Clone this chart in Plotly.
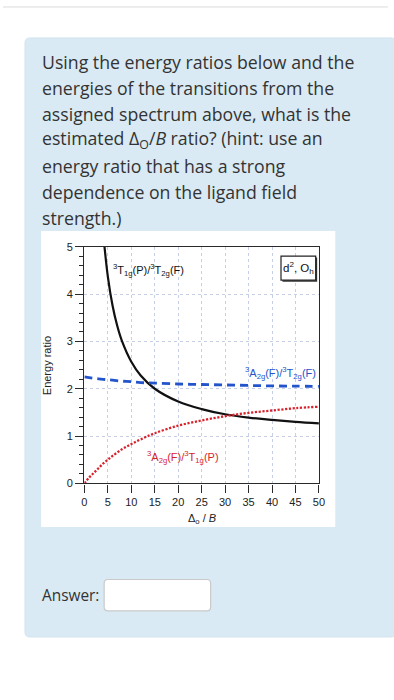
import plotly.graph_objects as go

# ---------------- data ----------------
x_t1gp = [4, 5, 6, 7, 8, 10, 12, 15, 20, 25, 30, 35, 40, 45, 50]
y_t1gp = [5.29, 4.37, 3.76, 3.33, 3.01, 2.57, 2.28, 2.00, 1.73, 1.57, 1.46, 1.39, 1.34, 1.30, 1.27]

x_ratio = [0, 1, 2, 3, 4, 5, 6, 8, 10, 12, 15, 20, 25, 30, 35, 40, 45, 50]
y_a2g_t2g = [2.25, 2.235, 2.22, 2.21, 2.20, 2.19, 2.18, 2.16, 2.15, 2.13, 2.12, 2.10, 2.09, 2.08, 2.07, 2.06, 2.055, 2.05]
y_a2g_t1gp = [0, 0.12, 0.22, 0.32, 0.42, 0.50, 0.58, 0.72, 0.83, 0.93, 1.06, 1.22, 1.33, 1.42, 1.49, 1.54, 1.59, 1.62]

x_ticks = [0, 5, 10, 15, 20, 25, 30, 35, 40, 45, 50]
y_ticks = [0, 1, 2, 3, 4, 5]

question_lines = [
    "Using the energy ratios below and the",
    "energies of the transitions from the",
    "assigned spectrum above, what is the",
    "estimated \u0394<sub>O</sub>/<i>B</i> ratio? (hint: use an",
    "energy ratio that has a strong",
    "dependence on the ligand field",
    "strength.)",
]

W, H = 394, 700


def fx(p):
    return p / W


def fy(p):
    return 1 - p / H


# plot area in pixels
PL, PR, PT, PB = 83.3, 323.3, 245.0, 485.7

BLACK = "#111111"
BLUE = "#2354cc"
RED = "#d8232d"
CHART_FONT = "Liberation Sans, Arial, sans-serif"
TEXT_FONT = "Open Sans, sans-serif"

fig = go.Figure()

fig.add_trace(go.Scatter(x=x_t1gp, y=y_t1gp, mode="lines",
                         line=dict(color=BLACK, width=2.2, shape="spline", smoothing=1.0),
                         hoverinfo="skip"))
fig.add_trace(go.Scatter(x=x_ratio, y=y_a2g_t2g, mode="lines",
                         line=dict(color=BLUE, width=2.8, dash="8px,5px", shape="spline"),
                         hoverinfo="skip"))
fig.add_trace(go.Scatter(x=x_ratio, y=y_a2g_t1gp, mode="lines",
                         line=dict(color=RED, width=2.3, dash="2.2px,1.6px", shape="spline"),
                         hoverinfo="skip"))

shapes = []
# top divider
shapes.append(dict(type="line", xref="paper", yref="paper", x0=0, x1=1, y0=fy(1), y1=fy(1),
                   line=dict(color="#dcdcdc", width=1), layer="below"))


def rounded(x0, y0, x1, y1, r):
    X = lambda p: fx(p)
    Y = lambda p: fy(p)
    return (f"M {X(x0 + r)} {Y(y0)} L {X(x1 - r)} {Y(y0)} Q {X(x1)} {Y(y0)} {X(x1)} {Y(y0 + r)} "
            f"L {X(x1)} {Y(y1 - r)} Q {X(x1)} {Y(y1)} {X(x1 - r)} {Y(y1)} "
            f"L {X(x0 + r)} {Y(y1)} Q {X(x0)} {Y(y1)} {X(x0)} {Y(y1 - r)} "
            f"L {X(x0)} {Y(y0 + r)} Q {X(x0)} {Y(y0)} {X(x0 + r)} {Y(y0)} Z")


# blue question panel
shapes.append(dict(type="path", xref="paper", yref="paper", path=rounded(22.5, 32.5, 402, 642, 5),
                   fillcolor="#d9eaf4", line=dict(color="#d2e4ef", width=1), layer="below"))
# white chart card
shapes.append(dict(type="rect", xref="paper", yref="paper", x0=fx(39), x1=fx(340), y0=fy(229), y1=fy(530),
                   fillcolor="white", line=dict(width=0), layer="below"))
# answer input
shapes.append(dict(type="path", xref="paper", yref="paper", path=rounded(103.5, 583.5, 212.5, 615.5, 4),
                   fillcolor="white", line=dict(color="#c9c9c9", width=1.2), layer="below"))
# d2, Oh box with shadow
shapes.append(dict(type="rect", xref="paper", yref="paper", x0=fx(286), x1=fx(321.5), y0=fy(256), y1=fy(280.5),
                   fillcolor="#333333", line=dict(width=0), layer="above"))
shapes.append(dict(type="rect", xref="paper", yref="paper", x0=fx(284.5), x1=fx(320), y0=fy(254.5), y1=fy(279),
                   fillcolor="white", line=dict(color="#222222", width=1.2), layer="above"))

annotations = []
line_centers = [57.1, 83.5, 109.9, 136.3, 162.7, 189.1, 215.5]
for txt, yc in zip(question_lines, line_centers):
    annotations.append(dict(text=txt, xref="paper", yref="paper", x=fx(37.5), y=fy(yc),
                            xanchor="left", yanchor="middle", showarrow=False,
                            font=dict(family=TEXT_FONT, size=17.7, color="#333333")))
annotations.append(dict(text="Answer:", xref="paper", yref="paper", x=fx(38), y=fy(599.7),
                        xanchor="left", yanchor="middle", showarrow=False,
                        font=dict(family=TEXT_FONT, size=15.4, color="#333333")))

# chart labels
annotations.append(dict(text="<sup>3</sup>T<sub>1g</sub>(P)/<sup>3</sup>T<sub>2g</sub>(F)",
                        xref="paper", yref="paper", x=fx(110.5), y=fy(269), xanchor="left", yanchor="middle",
                        showarrow=False, font=dict(family=CHART_FONT, size=11, color=BLACK)))
annotations.append(dict(text="<sup>3</sup>A<sub>2g</sub>(F)/<sup>3</sup>T<sub>2g</sub>(F)",
                        xref="paper", yref="paper", x=fx(322.5), y=fy(373.5), xanchor="right", yanchor="middle",
                        showarrow=False, font=dict(family=CHART_FONT, size=11, color=BLUE)))
annotations.append(dict(text="<sup>3</sup>A<sub>2g</sub>(F)/<sup>3</sup>T<sub>1g</sub>(P)",
                        xref="paper", yref="paper", x=fx(145.5), y=fy(459), xanchor="left", yanchor="middle",
                        showarrow=False, font=dict(family=CHART_FONT, size=11, color=RED)))
annotations.append(dict(text="d<sup>2</sup>, O<sub>h</sub>",
                        xref="paper", yref="paper", x=fx(302.3), y=fy(266.8), xanchor="center", yanchor="middle",
                        showarrow=False, font=dict(family=CHART_FONT, size=11.5, color="#111111")))
annotations.append(dict(text="Energy ratio", textangle=-90,
                        xref="paper", yref="paper", x=fx(45), y=fy(365.5), xanchor="center", yanchor="middle",
                        showarrow=False, font=dict(family=CHART_FONT, size=11, color="#222222")))
annotations.append(dict(text="\u0394<sub>o</sub> / <i>B</i>",
                        xref="paper", yref="paper", x=fx(203.3), y=fy(522), xanchor="center", yanchor="middle",
                        showarrow=False, font=dict(family=CHART_FONT, size=11, color="#222222")))

axis_common = dict(showline=True, mirror=True, linecolor="#2a2a2a", linewidth=1.4,
                   ticks="outside", ticklen=8, tickwidth=1.2, tickcolor="#2a2a2a",
                   showgrid=True, gridcolor="#c6cfe6", griddash="dot", gridwidth=1,
                   zeroline=False, tickfont=dict(family=CHART_FONT, size=11, color="#222222"))

fig.update_layout(
    width=W, height=H, autosize=False,
    margin=dict(l=0, r=0, t=0, b=0),
    paper_bgcolor="white", plot_bgcolor="rgba(0,0,0,0)",
    showlegend=False,
    xaxis=dict(domain=[fx(PL), fx(PR)], range=[0, 50], tickvals=x_ticks,
               ticktext=[str(v) for v in x_ticks], **axis_common),
    yaxis=dict(domain=[fy(PB), fy(PT)], range=[0, 5], tickvals=y_ticks,
               ticktext=[str(v) for v in y_ticks],
               minor=dict(dtick=0.2, ticks="outside", ticklen=4, tickwidth=1, tickcolor="#2a2a2a",
                          showgrid=False),
               **axis_common),
    shapes=shapes,
    annotations=annotations,
)

fig.write_html("out.html", config={"displayModeBar": False},
               post_script="document.body.style.margin='0';")
